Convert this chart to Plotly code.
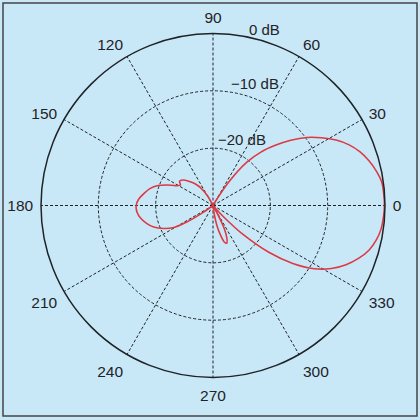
import math
import plotly.graph_objects as go

# antenna pattern, angle in degrees / gain in dB
angle_deg = [0, 4, 8, 12, 16, 20, 24, 28, 32, 36, 40, 44, 48, 52, 56, 60, 64,
             116, 120, 125, 130, 135, 140, 144, 148, 152, 156, 160, 165, 170, 175,
             180, 185, 190, 195, 200, 205, 209, 212, 215, 218,
             272, 275, 278, 281, 284, 287, 290, 293, 296, 298, 302,
             306, 310, 312, 314, 316, 320, 324, 328, 332, 336, 340, 344, 348, 352, 356, 360]
gain_db = [-0.1, -0.15, -0.3, -0.9, -1.7, -2.7, -4.0, -5.7, -7.7, -9.8, -12.3, -14.9, -17.4, -20.4, -24.9, -29.5, -30,
           -30, -28, -26.2, -25, -24, -23.1, -22.8, -23.3, -22.6, -21.2, -19.8, -18.6, -17.8, -17,
           -16.6, -16.7, -17.2, -18, -19, -20.5, -22, -24.5, -28, -30,
           -30, -30, -28.5, -26.5, -24.8, -23.4, -23, -23.8, -25.5, -28, -30,
           -30, -30, -28.3, -26, -22.8, -17.3, -12.8, -9.2, -6.6, -4.6, -3.0, -1.7, -0.9, -0.4, -0.2, -0.1]

tick_angles = list(range(0, 360, 30))
tick_text = [str(a) for a in tick_angles]
ring_vals = [-20, -10, 0]
ring_text = ["\u221220 dB", "\u221210 dB", "0 dB"]
r_min = -30

W = H = 420
cx, cy, R = 213, 205.5, 172  # pixel centre and radius of the polar disc
bg = "#c9e8f7"
ink = "#1f2327"
font = "Liberation Sans, Arial, sans-serif"

fig = go.Figure()
fig.add_trace(go.Scatterpolar(
    r=gain_db, theta=angle_deg,
    mode="lines",
    line=dict(color="#dc3a45", width=1.6, shape="spline", smoothing=0.8),
    showlegend=False, hoverinfo="skip",
))

# dB labels sitting on each ring, just right of the 90 degree spoke
annotations = []
for v, t in zip(ring_vals, ring_text):
    rp = (v - r_min) / (0 - r_min) * R
    ang = math.radians(86 - 8 * rp / R)
    annotations.append(dict(
        text=t, showarrow=False,
        xref="paper", yref="paper",
        x=(cx + rp * math.cos(ang)) / W,
        y=1 - (cy - rp * math.sin(ang)) / H,
        xanchor="left", yanchor="bottom",
        xshift=-4 + 2 * rp / R, yshift=-3 * rp / R,
        font=dict(size=15, color=ink, family=font),
    ))

fig.update_layout(
    width=W, height=H,
    margin=dict(l=0, r=0, t=0, b=0),
    paper_bgcolor=bg,
    polar=dict(
        domain=dict(x=[(cx - R) / W, (cx + R) / W],
                    y=[1 - (cy + R) / H, 1 - (cy - R) / H]),
        bgcolor=bg,
        angularaxis=dict(
            direction="counterclockwise", rotation=0,
            tickmode="array", tickvals=tick_angles, ticktext=tick_text,
            showline=True, linecolor=ink, linewidth=1.5,
            gridcolor=ink, gridwidth=1.3, griddash="3px,2px",
            ticks="outside", ticklen=4, tickcolor="rgba(0,0,0,0)",
            tickfont=dict(size=15.5, color=ink, family=font),
        ),
        radialaxis=dict(
            range=[r_min, 0],
            tickvals=ring_vals,
            showticklabels=False, ticks="", showline=False,
            gridcolor=ink, gridwidth=1.3, griddash="3px,2px",
        ),
    ),
    annotations=annotations,
    shapes=[dict(type="rect", xref="paper", yref="paper",
                 x0=3 / W, x1=417 / W, y0=4 / H, y1=417 / H,
                 line=dict(color="#444", width=1.5))],
)

fig.write_html("out.html", config={"displayModeBar": False},
               post_script="document.body.style.margin='0';")
